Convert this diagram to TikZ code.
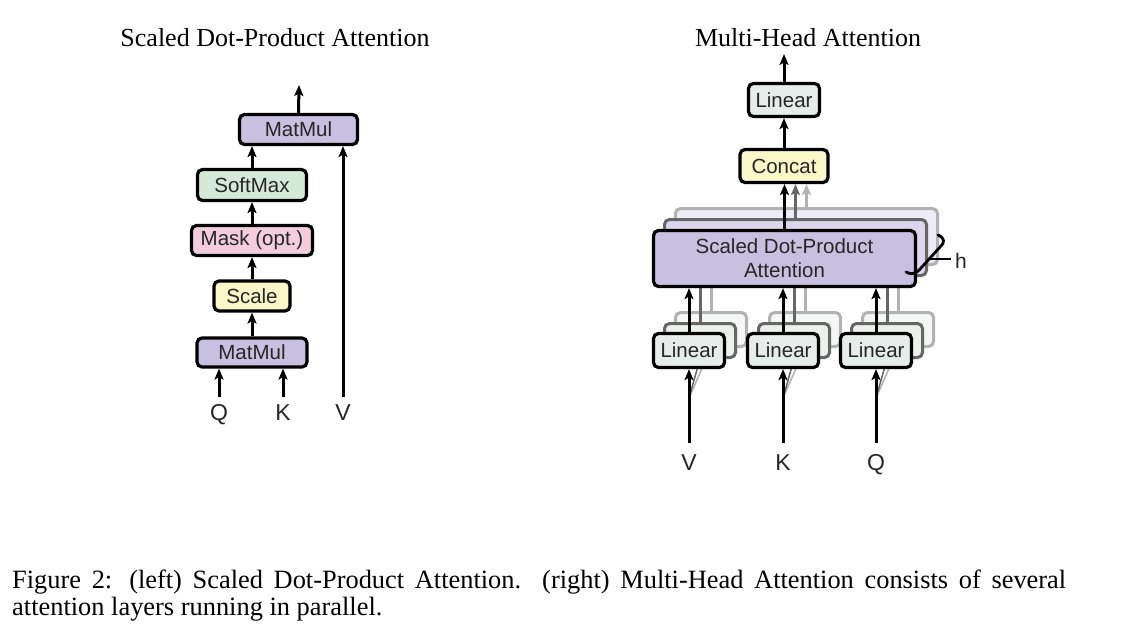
\documentclass[tikz,border=0pt]{standalone}
\usepackage{fontspec}
\setmainfont{Liberation Serif}
\newfontfamily\hv{Liberation Sans}
\usetikzlibrary{arrows.meta}
\definecolor{mmpurple}{RGB}{199,192,224}
\definecolor{smgreen}{RGB}{212,234,214}
\definecolor{mkpink}{RGB}{243,205,220}
\definecolor{scyellow}{RGB}{250,247,200}
\definecolor{lingray}{RGB}{230,236,233}
\begin{document}
\begin{tikzpicture}[x=1pt,y=-1pt,
  box/.style={draw=black, line width=3.2pt, rounded corners=5pt, inner sep=0pt,
    font=\hv\fontsize{20.5}{24}\selectfont, text=black!85},
  backa/.style={draw=black!60, line width=3pt, rounded corners=5pt, inner sep=0pt},
  backb/.style={draw=black!30, line width=3pt, rounded corners=5pt, inner sep=0pt},
  arr/.style={line width=3pt, -{Stealth[length=11pt,width=9pt,inset=2.5pt]}},
  arra/.style={arr, draw=black!60, color=black!60},
  arrb/.style={arr, draw=black!30, color=black!30},
  lbl/.style={font=\hv\fontsize{23}{27}\selectfont, inner sep=0pt, text=black!85, anchor=base},
  ttl/.style={font=\fontsize{26}{30}\selectfont, inner sep=0pt, anchor=base},
  captext/.style={font=\fontsize{26.4}{30}\selectfont, inner sep=0pt, anchor=base west},
]
\fill[white] (0,0) rectangle (1124,634);
\useasboundingbox (0,0) rectangle (1124,634);

% ---------------- left: scaled dot-product attention
\node[ttl] (t1) at (275,47) {Scaled Dot-Product Attention};
\node[box, fill=mmpurple, minimum width=118pt, minimum height=30pt] (mmtop) at (298.5,129.5) {MatMul};
\node[box, fill=smgreen, minimum width=109pt, minimum height=31pt] (soft) at (252,185) {SoftMax};
\node[box, fill=mkpink, minimum width=121pt, minimum height=30pt] (mask) at (252,240.5) {Mask (opt.)};
\node[box, fill=scyellow, minimum width=76pt, minimum height=30pt] (scale) at (252,296) {Scale};
\node[box, fill=mmpurple, minimum width=110pt, minimum height=29pt] (mmbot) at (252,352.5) {MatMul};

\node[lbl] (Q1) at (219,420) {Q};
\node[lbl] (K1) at (283,420) {K};
\node[lbl] (V1) at (343,420) {V};
\coordinate (qin) at (219,397);
\coordinate (kin) at (283,397);
\coordinate (vin) at (343,397);
\coordinate (out1) at (299,85);

\draw[arr] (qin) -- (qin |- mmbot.south);
\draw[arr] (kin) -- (kin |- mmbot.south);
\draw[arr] (vin) -- (vin |- mmtop.south);
\draw[arr] (mmbot.north) -- (scale.south);
\draw[arr] (scale.north) -- (mask.south);
\draw[arr] (mask.north) -- (soft.south);
\draw[arr] (soft.north) -- (soft.north |- mmtop.south);
\draw[arr] (mmtop.north) -- (out1);

% ---------------- right: multi-head attention
\node[ttl] (t2) at (808,47) {Multi-Head Attention};

% back heads of scaled dot-product attention
\node[backb, fill=mmpurple!30, minimum width=262pt, minimum height=56pt] (sdpac) at (806.5,236.5) {};
\node[backa, fill=mmpurple!65, minimum width=262pt, minimum height=56pt] (sdpab) at (795.5,247.5) {};

% back linear layers
\foreach \n/\x in {1/689,2/783,3/876}{
  \node[backb, fill=lingray!40, minimum width=71pt, minimum height=34pt] (l\n c) at (\x+22,329.5) {};
}
\foreach \n/\x in {1/689,2/783,3/876}{
  \node[backa, fill=lingray!75, minimum width=71pt, minimum height=34pt] (l\n b) at (\x+11,340.5) {};
}

\coordinate (vin2) at (689,443);
\coordinate (kin2) at (783,443);
\coordinate (qin2) at (876,443);
\coordinate (vs) at (689,398);
\coordinate (ks) at (783,398);
\coordinate (qs) at (876,398);

\foreach \n/\s in {1/vs,2/ks,3/qs}{
  \draw[line width=1.5pt, black!30] (\s) -- (l\n c.south);
  \draw[line width=1.5pt, black!60] (\s) -- (l\n b.south);
  \draw[arrb] (l\n c.north) -- (l\n c.north |- sdpac.south);
  \draw[arra] (l\n b.north) -- (l\n b.north |- sdpab.south);
}

% front boxes
\node[box, fill=mmpurple, minimum width=262pt, minimum height=56pt, align=center,
  font=\hv\fontsize{20.5}{24}\selectfont] (sdpa) at (784.5,258.5) {Scaled Dot-Product\\Attention};
\node[box, fill=lingray, minimum width=71pt, minimum height=34pt] (l1) at (689,350.5) {Linear};
\node[box, fill=lingray, minimum width=71pt, minimum height=34pt] (l2) at (783,350.5) {Linear};
\node[box, fill=lingray, minimum width=71pt, minimum height=34pt] (l3) at (876,350.5) {Linear};
\node[box, fill=scyellow, minimum width=88pt, minimum height=33pt] (concat) at (784,166) {Concat};
\node[box, fill=lingray, minimum width=71pt, minimum height=33pt] (lintop) at (784,100) {Linear};
\coordinate (out2) at (784,54);

\draw[arr] (vin2) -- (l1.south);
\draw[arr] (kin2) -- (l2.south);
\draw[arr] (qin2) -- (l3.south);
\foreach \n in {1,2,3}{
  \draw[arr] (l\n.north) -- (l\n.north |- sdpa.south);
}
\draw[arrb] (sdpac.north) -- (sdpac.north |- concat.south);
\draw[arra] (sdpab.north) -- (sdpab.north |- concat.south);
\draw[arr] (sdpa.north) -- (sdpa.north |- concat.south);
\draw[arr] (concat.north) -- (lintop.south);
\draw[arr] (lintop.north) -- (out2);

\node[lbl] (V2) at (689,470) {V};
\node[lbl] (K2) at (783,470) {K};
\node[lbl] (Q2) at (876,470) {Q};

% h brace
\draw[line width=2.8pt, line cap=round] (938,235) .. controls (945,238) and (945,243) .. (940,247)
  -- (921,268) .. controls (916,274) and (911,275) .. (906,272);
\node[lbl, anchor=base west, font=\hv\fontsize{21}{24}\selectfont] (h) at (955,268) {h};
\coordinate (hb) at (929,259);
\draw[line width=1.8pt, shorten >=4pt] (hb) -- (hb -| h.west);

% caption
\node[captext] (cap1) at (12,588) {\makebox[1054pt][s]{Figure 2: (left) Scaled Dot-Product Attention. (right) Multi-Head Attention consists of several}};
\node[captext] (cap2) at (12,615) {attention layers running in parallel.};
\end{tikzpicture}
\end{document}
